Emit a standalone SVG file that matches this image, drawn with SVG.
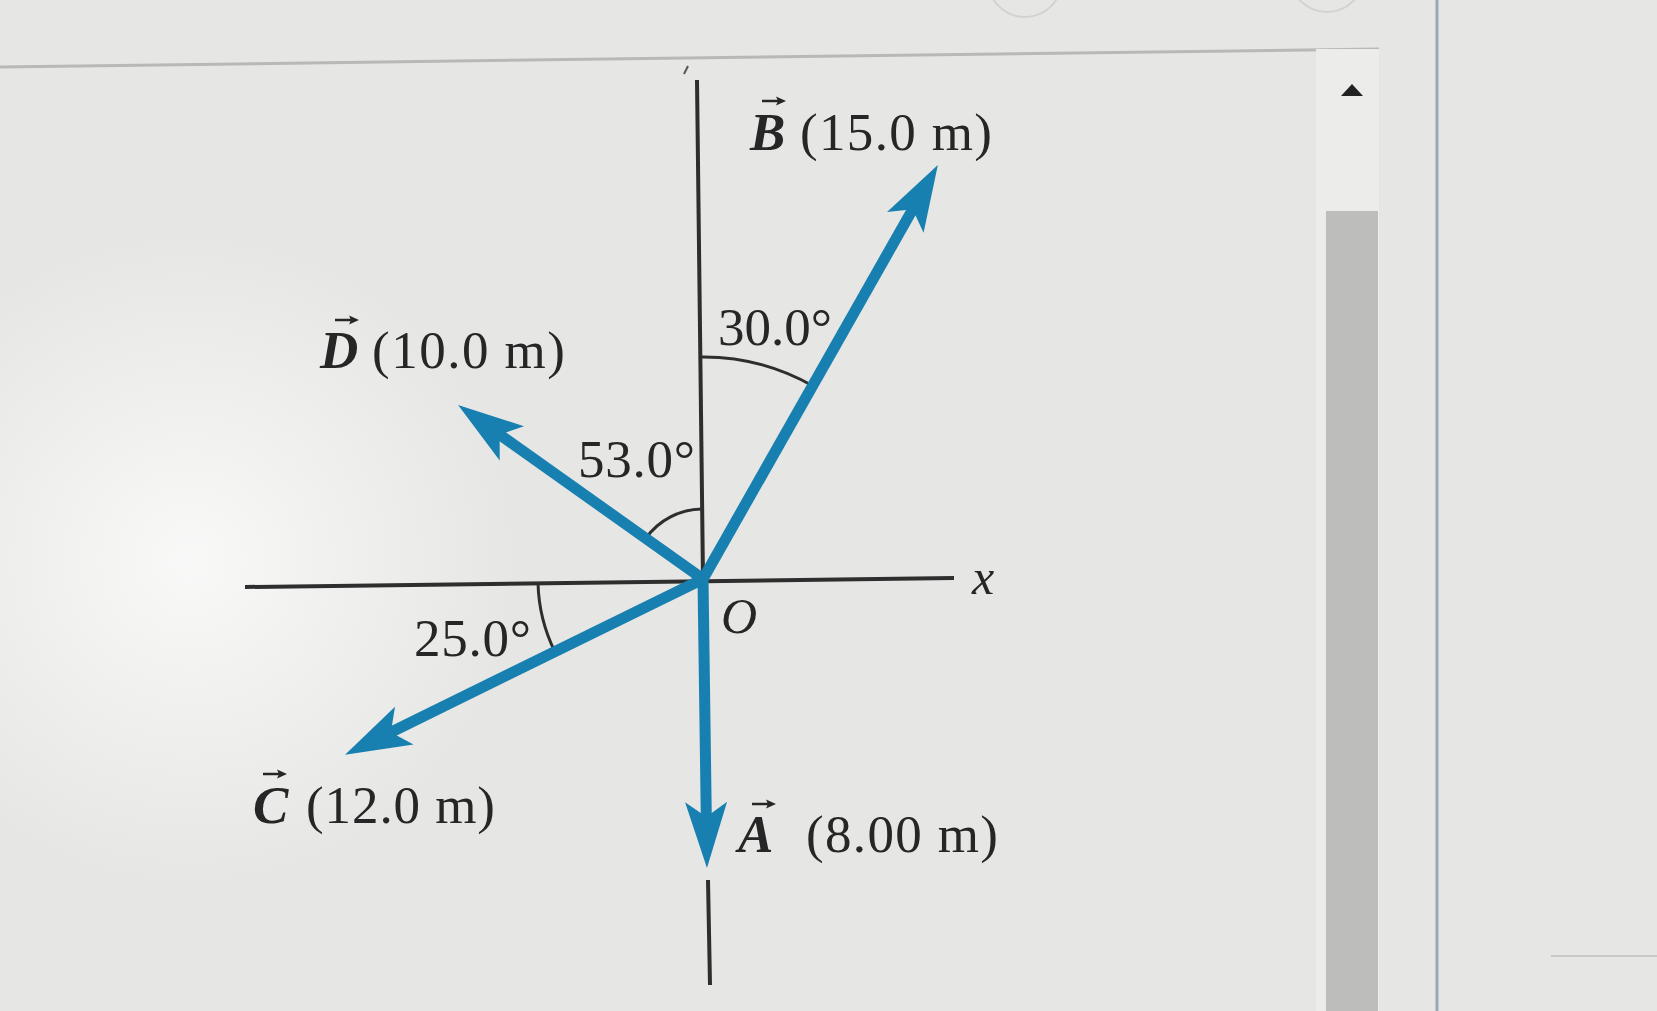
<svg xmlns="http://www.w3.org/2000/svg" width="1657" height="1011" viewBox="0 0 1657 1011">
<style>
.axis{stroke:#2e2e2e;stroke-width:4;fill:none}
.arc{stroke:#2e2e2e;stroke-width:3;fill:none}
.vec{stroke:#1780b0;stroke-width:11;fill:none;marker-end:url(#ah)}
.t{font-family:"Liberation Serif","Times New Roman",serif;font-size:53px;fill:#262626}
.v{font-family:"Liberation Serif","Times New Roman",serif;font-size:53px;font-weight:bold;font-style:italic;fill:#262626}
.i{font-family:"Liberation Serif","Times New Roman",serif;font-size:50px;font-style:italic;fill:#262626}
</style>
<defs>
<radialGradient id="glare" cx="190" cy="560" r="330" gradientUnits="userSpaceOnUse">
<stop offset="0" stop-color="#ffffff" stop-opacity="0.75"/>
<stop offset="1" stop-color="#ffffff" stop-opacity="0"/>
</radialGradient>
<marker id="ah" markerUnits="userSpaceOnUse" markerWidth="70" markerHeight="50" refX="16" refY="25" orient="auto" overflow="visible">
<path d="M66,25 L0,4 L11,19.5 L11,30.5 L0,46 Z" fill="#1780b0"/>
</marker>
<g id="acc">
<path d="M0,0 H18" stroke="#262626" stroke-width="2.5"/>
<path d="M24,0 L14,-4.5 L16,0 L14,4.5 Z" fill="#262626"/>
</g>
</defs>

<g id="background">
<rect width="1657" height="1011" fill="#e6e6e4"/>
<rect x="0" y="0" width="1657" height="1011" fill="url(#glare)"/>
<path d="M0,67 L1379,49" stroke="#b8b8b6" stroke-width="3"/>
<circle cx="1025" cy="-20" r="37" fill="none" stroke="#d2d2d0" stroke-width="2"/>
<circle cx="1327" cy="-25" r="37" fill="none" stroke="#d2d2d0" stroke-width="2"/>
<rect x="1316" y="49" width="63" height="962" fill="#ececea"/>
<rect x="1326" y="211" width="52" height="800" fill="#bdbdbb"/>
<path d="M1341,96 L1352,84 L1363,96 Z" fill="#222"/>
<path d="M1437,0 V1011" stroke="#9aa9b6" stroke-width="3"/>
<path d="M1551,956 H1657" stroke="#c8c8c6" stroke-width="2"/>
</g>

<g id="axes">
<path class="axis" d="M697,80 L703,579"/>
<path class="axis" d="M708,880 L710,985"/>
<path class="axis" d="M245,587 L954,578"/>
<path d="M684,74 L688,66" stroke="#555" stroke-width="2"/>
<text class="i" x="972" y="594" font-size="46">x</text>
<text class="i" x="721" y="633">O</text>
</g>

<g id="angles">
<path class="arc" d="M700,357 A222,222 0 0 1 813,386"/>
<path class="arc" d="M702,509 A70,70 0 0 0 646,538"/>
<path class="arc" d="M538,583 A165,165 0 0 0 555,652"/>
<text class="t" x="718" y="345" textLength="114">30.0°</text>
<text class="t" x="578" y="477" textLength="117">53.0°</text>
<text class="t" x="414" y="656" textLength="117">25.0°</text>
</g>

<g id="connectors">
<line id="vec-A" class="vec" x1="703" y1="579" x2="706.3" y2="818"/>
<line id="vec-B" class="vec" x1="703" y1="579" x2="913.2" y2="208.4"/>
<line id="vec-C" class="vec" x1="703" y1="579" x2="389.9" y2="732.7"/>
<line id="vec-D" class="vec" x1="703" y1="579" x2="498.8" y2="434"/>
</g>

<g id="label-B">
<use href="#acc" x="762" y="101"/>
<text class="v" x="750" y="150">B</text>
<text class="t" x="800" y="150" textLength="192">(15.0 m)</text>
</g>
<g id="label-D">
<use href="#acc" x="335" y="320"/>
<text class="v" x="320" y="368">D</text>
<text class="t" x="372" y="368" textLength="193">(10.0 m)</text>
</g>
<g id="label-C">
<use href="#acc" x="263" y="774"/>
<text class="v" x="253" y="823">C</text>
<text class="t" x="306" y="823" textLength="189">(12.0 m)</text>
</g>
<g id="label-A">
<use href="#acc" x="752" y="804"/>
<text class="v" x="738" y="852">A</text>
<text class="t" x="806" y="852" textLength="192">(8.00 m)</text>
</g>
</svg>
